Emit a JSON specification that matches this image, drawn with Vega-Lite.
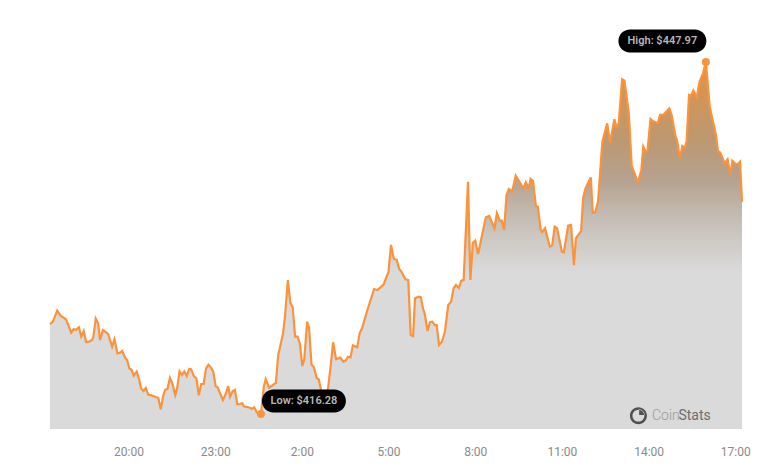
{
  "$schema": "https://vega.github.io/schema/vega-lite/v6.json",
  "autosize": "none",
  "padding": {"left": 50, "top": 20, "right": 18, "bottom": 43},
  "width": 692,
  "height": 409,
  "background": "#ffffff",
  "config": {"view": {"stroke": null}},
  "datasets": {
    "price": [
      {"t":"2024-03-01T17:17","p":424.36},{"t":"2024-03-01T17:23","p":424.59},{"t":"2024-03-01T17:32","p":425.58},{"t":"2024-03-01T17:39","p":425.13},{"t":"2024-03-01T17:50","p":424.81},{"t":"2024-03-01T17:55","p":424.29},{"t":"2024-03-01T18:01","p":423.60},{"t":"2024-03-01T18:06","p":423.93},{"t":"2024-03-01T18:11","p":423.84},{"t":"2024-03-01T18:17","p":424.09},{"t":"2024-03-01T18:22","p":423.24},{"t":"2024-03-01T18:27","p":423.75},{"t":"2024-03-01T18:32","p":422.76},{"t":"2024-03-01T18:38","p":422.79},{"t":"2024-03-01T18:44","p":422.94},{"t":"2024-03-01T18:47","p":423.19},{"t":"2024-03-01T18:52","p":424.86},{"t":"2024-03-01T18:57","p":424.45},
      {"t":"2024-03-01T19:01","p":422.94},{"t":"2024-03-01T19:07","p":423.84},{"t":"2024-03-01T19:13","p":423.66},{"t":"2024-03-01T19:18","p":423.46},{"t":"2024-03-01T19:26","p":422.34},{"t":"2024-03-01T19:31","p":423.01},{"t":"2024-03-01T19:37","p":421.74},{"t":"2024-03-01T19:42","p":421.80},{"t":"2024-03-01T19:47","p":421.95},{"t":"2024-03-01T19:53","p":421.35},{"t":"2024-03-01T19:57","p":421.14},
      {"t":"2024-03-01T20:02","p":420.36},{"t":"2024-03-01T20:06","p":420.30},{"t":"2024-03-01T20:11","p":419.73},{"t":"2024-03-01T20:17","p":420.09},{"t":"2024-03-01T20:22","p":419.40},{"t":"2024-03-01T20:26","p":418.59},{"t":"2024-03-01T20:31","p":418.35},{"t":"2024-03-01T20:36","p":418.62},{"t":"2024-03-01T20:41","p":418.02},{"t":"2024-03-01T20:47","p":417.96},{"t":"2024-03-01T20:55","p":417.84},
      {"t":"2024-03-01T21:02","p":417.72},{"t":"2024-03-01T21:07","p":416.70},{"t":"2024-03-01T21:12","p":417.90},{"t":"2024-03-01T21:16","p":418.44},{"t":"2024-03-01T21:21","p":418.56},{"t":"2024-03-01T21:26","p":419.52},{"t":"2024-03-01T21:31","p":419.04},{"t":"2024-03-01T21:37","p":417.99},{"t":"2024-03-01T21:41","p":418.59},{"t":"2024-03-01T21:46","p":420.12},{"t":"2024-03-01T21:51","p":419.79},{"t":"2024-03-01T21:56","p":420.12},
      {"t":"2024-03-01T22:01","p":419.70},{"t":"2024-03-01T22:06","p":420.33},{"t":"2024-03-01T22:10","p":420.30},{"t":"2024-03-01T22:16","p":419.67},{"t":"2024-03-01T22:21","p":419.49},{"t":"2024-03-01T22:26","p":417.96},{"t":"2024-03-01T22:31","p":418.98},{"t":"2024-03-01T22:36","p":418.98},{"t":"2024-03-01T22:41","p":420.39},{"t":"2024-03-01T22:46","p":420.72},{"t":"2024-03-01T22:51","p":420.48},{"t":"2024-03-01T22:56","p":420.09},
      {"t":"2024-03-01T23:01","p":418.80},{"t":"2024-03-01T23:05","p":418.68},{"t":"2024-03-01T23:16","p":417.54},{"t":"2024-03-01T23:21","p":417.99},{"t":"2024-03-01T23:27","p":418.80},{"t":"2024-03-01T23:31","p":417.84},{"t":"2024-03-01T23:36","p":418.32},{"t":"2024-03-01T23:41","p":418.44},{"t":"2024-03-01T23:46","p":417.15},{"t":"2024-03-01T23:51","p":417.18},{"t":"2024-03-01T23:56","p":417.24},
      {"t":"2024-03-02T00:00","p":416.97},{"t":"2024-03-02T00:12","p":416.85},{"t":"2024-03-02T00:16","p":416.73},{"t":"2024-03-02T00:21","p":416.88},{"t":"2024-03-02T00:27","p":416.40},{"t":"2024-03-02T00:35","p":416.28},{"t":"2024-03-02T00:41","p":418.74},{"t":"2024-03-02T00:45","p":419.43},{"t":"2024-03-02T00:52","p":418.65},
      {"t":"2024-03-02T01:06","p":419.07},{"t":"2024-03-02T01:11","p":421.59},{"t":"2024-03-02T01:21","p":423.55},{"t":"2024-03-02T01:25","p":425.04},{"t":"2024-03-02T01:31","p":428.34},{"t":"2024-03-02T01:36","p":426.30},{"t":"2024-03-02T01:41","p":425.89},{"t":"2024-03-02T01:46","p":423.24},{"t":"2024-03-02T01:51","p":423.24},{"t":"2024-03-02T01:56","p":422.58},
      {"t":"2024-03-02T02:01","p":420.60},{"t":"2024-03-02T02:05","p":421.20},{"t":"2024-03-02T02:11","p":424.59},{"t":"2024-03-02T02:15","p":424.00},{"t":"2024-03-02T02:20","p":420.75},{"t":"2024-03-02T02:25","p":420.48},{"t":"2024-03-02T02:31","p":419.49},{"t":"2024-03-02T02:35","p":419.40},{"t":"2024-03-02T02:40","p":418.44},{"t":"2024-03-02T02:46","p":417.54},{"t":"2024-03-02T02:51","p":417.54},{"t":"2024-03-02T02:54","p":418.44},
      {"t":"2024-03-02T03:00","p":420.69},{"t":"2024-03-02T03:05","p":422.74},{"t":"2024-03-02T03:11","p":421.20},{"t":"2024-03-02T03:20","p":421.35},{"t":"2024-03-02T03:26","p":420.99},{"t":"2024-03-02T03:31","p":421.08},{"t":"2024-03-02T03:36","p":421.44},{"t":"2024-03-02T03:41","p":421.38},{"t":"2024-03-02T03:46","p":422.47},{"t":"2024-03-02T03:55","p":422.28},
      {"t":"2024-03-02T04:00","p":423.55},{"t":"2024-03-02T04:05","p":424.00},{"t":"2024-03-02T04:15","p":425.49},{"t":"2024-03-02T04:30","p":427.53},{"t":"2024-03-02T04:37","p":427.44},{"t":"2024-03-02T04:50","p":427.96},
      {"t":"2024-03-02T05:00","p":429.09},{"t":"2024-03-02T05:05","p":431.50},{"t":"2024-03-02T05:11","p":430.26},{"t":"2024-03-02T05:17","p":430.14},{"t":"2024-03-02T05:22","p":429.33},{"t":"2024-03-02T05:26","p":429.15},{"t":"2024-03-02T05:35","p":428.41},{"t":"2024-03-02T05:41","p":428.34},{"t":"2024-03-02T05:46","p":423.39},{"t":"2024-03-02T05:51","p":423.30},{"t":"2024-03-02T05:55","p":426.70},
      {"t":"2024-03-02T06:02","p":426.84},{"t":"2024-03-02T06:07","p":426.79},{"t":"2024-03-02T06:12","p":425.71},{"t":"2024-03-02T06:15","p":425.35},{"t":"2024-03-02T06:21","p":423.75},{"t":"2024-03-02T06:26","p":424.54},{"t":"2024-03-02T06:31","p":424.59},{"t":"2024-03-02T06:36","p":424.29},{"t":"2024-03-02T06:40","p":424.29},{"t":"2024-03-02T06:45","p":422.49},{"t":"2024-03-02T06:51","p":422.79},{"t":"2024-03-02T06:57","p":423.69},
      {"t":"2024-03-02T07:04","p":426.09},{"t":"2024-03-02T07:10","p":426.39},{"t":"2024-03-02T07:15","p":427.60},{"t":"2024-03-02T07:20","p":427.89},{"t":"2024-03-02T07:26","p":427.62},{"t":"2024-03-02T07:31","p":428.28},{"t":"2024-03-02T07:36","p":428.34},{"t":"2024-03-02T07:45","p":437.19},{"t":"2024-03-02T07:50","p":428.34},{"t":"2024-03-02T07:55","p":431.68},
      {"t":"2024-03-02T08:00","p":431.88},{"t":"2024-03-02T08:06","p":430.68},{"t":"2024-03-02T08:22","p":433.99},{"t":"2024-03-02T08:29","p":434.11},{"t":"2024-03-02T08:40","p":433.00},{"t":"2024-03-02T08:45","p":434.35},{"t":"2024-03-02T08:51","p":433.68},{"t":"2024-03-02T08:55","p":433.68},
      {"t":"2024-03-02T09:00","p":432.85},{"t":"2024-03-02T09:05","p":436.00},{"t":"2024-03-02T09:10","p":436.54},{"t":"2024-03-02T09:17","p":436.33},{"t":"2024-03-02T09:24","p":437.73},{"t":"2024-03-02T09:40","p":436.60},{"t":"2024-03-02T09:45","p":437.14},{"t":"2024-03-02T09:51","p":436.60},{"t":"2024-03-02T09:55","p":437.44},
      {"t":"2024-03-02T10:00","p":437.28},{"t":"2024-03-02T10:06","p":435.01},{"t":"2024-03-02T10:10","p":434.94},{"t":"2024-03-02T10:16","p":432.85},{"t":"2024-03-02T10:19","p":432.67},{"t":"2024-03-02T10:25","p":433.00},{"t":"2024-03-02T10:35","p":431.34},{"t":"2024-03-02T10:40","p":431.49},{"t":"2024-03-02T10:45","p":433.14},{"t":"2024-03-02T10:50","p":433.00},
      {"t":"2024-03-02T11:00","p":430.89},{"t":"2024-03-02T11:04","p":430.84},{"t":"2024-03-02T11:13","p":433.23},{"t":"2024-03-02T11:19","p":433.30},{"t":"2024-03-02T11:25","p":429.67},{"t":"2024-03-02T11:29","p":432.10},{"t":"2024-03-02T11:40","p":432.76},{"t":"2024-03-02T11:44","p":435.70},{"t":"2024-03-02T11:49","p":436.60},
      {"t":"2024-03-02T12:00","p":437.59},{"t":"2024-03-02T12:04","p":434.40},{"t":"2024-03-02T12:09","p":434.44},{"t":"2024-03-02T12:15","p":435.39},{"t":"2024-03-02T12:24","p":440.80},{"t":"2024-03-02T12:34","p":442.45},{"t":"2024-03-02T12:40","p":440.70},{"t":"2024-03-02T12:49","p":442.81},{"t":"2024-03-02T12:53","p":442.15},{"t":"2024-03-02T12:58","p":442.45},
      {"t":"2024-03-02T13:05","p":446.41},{"t":"2024-03-02T13:10","p":446.29},{"t":"2024-03-02T13:19","p":443.35},{"t":"2024-03-02T13:25","p":438.61},{"t":"2024-03-02T13:38","p":437.14},{"t":"2024-03-02T13:45","p":438.25},{"t":"2024-03-02T13:49","p":440.35},{"t":"2024-03-02T13:54","p":439.89},{"t":"2024-03-02T13:58","p":440.05},
      {"t":"2024-03-02T14:04","p":442.84},{"t":"2024-03-02T14:09","p":442.66},{"t":"2024-03-02T14:19","p":442.45},{"t":"2024-03-02T14:24","p":443.23},{"t":"2024-03-02T14:30","p":443.20},{"t":"2024-03-02T14:37","p":443.50},{"t":"2024-03-02T14:43","p":443.80},{"t":"2024-03-02T14:48","p":443.20},{"t":"2024-03-02T14:56","p":441.25},{"t":"2024-03-02T14:59","p":440.95},
      {"t":"2024-03-02T15:05","p":439.30},{"t":"2024-03-02T15:10","p":440.41},{"t":"2024-03-02T15:15","p":440.26},{"t":"2024-03-02T15:19","p":440.80},{"t":"2024-03-02T15:24","p":445.00},{"t":"2024-03-02T15:28","p":444.91},{"t":"2024-03-02T15:33","p":445.39},{"t":"2024-03-02T15:40","p":444.79},{"t":"2024-03-02T15:46","p":446.20},{"t":"2024-03-02T15:53","p":446.95},{"t":"2024-03-02T15:59","p":447.97},
      {"t":"2024-03-02T16:07","p":443.95},{"t":"2024-03-02T16:13","p":442.75},{"t":"2024-03-02T16:20","p":441.40},{"t":"2024-03-02T16:24","p":439.98},{"t":"2024-03-02T16:29","p":439.81},{"t":"2024-03-02T16:38","p":438.85},{"t":"2024-03-02T16:44","p":439.21},{"t":"2024-03-02T16:50","p":437.80},{"t":"2024-03-02T16:54","p":439.08},
      {"t":"2024-03-02T17:01","p":438.79},{"t":"2024-03-02T17:05","p":438.76},{"t":"2024-03-02T17:10","p":438.99},{"t":"2024-03-02T17:14","p":435.39}
    ],
    "high": [{"t":"2024-03-02T15:59","p":447.97,"label":"High: $447.97"}],
    "low": [{"t":"2024-03-02T00:35","p":416.28,"label":"Low: $416.28"}],
    "logo": [{"t":"2024-03-02T13:39","p":416.13}]
  },
  "encoding": {
    "x": {
      "field": "t",
      "type": "temporal",
      "scale": {"domain": [{"year":2024,"month":3,"date":1,"hours":17,"minutes":17},{"year":2024,"month":3,"date":2,"hours":17,"minutes":14}]},
      "axis": {
        "title": null,
        "grid": false,
        "domain": false,
        "ticks": false,
        "labelPadding": 17,
        "labelFont": "Roboto",
        "labelFontSize": 12,
        "labelColor": "#8a8a8a",
        "labelFlush": false,
        "labelOverlap": false,
        "format": "%-H:%M",
        "values": [
          {"year":2024,"month":3,"date":1,"hours":20},
          {"year":2024,"month":3,"date":1,"hours":23},
          {"year":2024,"month":3,"date":2,"hours":2},
          {"year":2024,"month":3,"date":2,"hours":5},
          {"year":2024,"month":3,"date":2,"hours":8},
          {"year":2024,"month":3,"date":2,"hours":11},
          {"year":2024,"month":3,"date":2,"hours":14},
          {"year":2024,"month":3,"date":2,"hours":17}
        ]
      }
    },
    "y": {
      "field": "p",
      "type": "quantitative",
      "scale": {"domain": [414.93, 451.75], "zero": false, "nice": false},
      "axis": null
    }
  },
  "layer": [
    {
      "data": {"name": "price"},
      "mark": {
        "type": "area",
        "color": {
          "gradient": "linear",
          "x1": 0, "y1": 0, "x2": 0, "y2": 1,
          "stops": [
            {"offset": 0, "color": "#ea9238"},
            {"offset": 0.1, "color": "#d0955a"},
            {"offset": 0.21, "color": "#bc9870"},
            {"offset": 0.32, "color": "#b5a28f"},
            {"offset": 0.43, "color": "#c5beb5"},
            {"offset": 0.57, "color": "#dadada"},
            {"offset": 1, "color": "#dadada"}
          ]
        },
        "opacity": 1
      },
      "encoding": {"y2": {"datum": 414.93}}
    },
    {
      "data": {"name": "price"},
      "mark": {"type": "line", "color": "#fb923c", "strokeWidth": 2.2}
    },
    {
      "data": {"name": "high"},
      "mark": {"type": "rect", "color": "#000000", "width": 88, "height": 23, "cornerRadius": 11.5, "xOffset": -43.5, "yOffset": -21}
    },
    {
      "data": {"name": "low"},
      "mark": {"type": "rect", "color": "#000000", "width": 84, "height": 23, "cornerRadius": 11.5, "xOffset": 43, "yOffset": -13}
    },
    {
      "data": {"name": "high"},
      "mark": {"type": "circle", "color": "#fb923c", "size": 64, "opacity": 1}
    },
    {
      "data": {"name": "low"},
      "mark": {"type": "circle", "color": "#fb923c", "size": 64, "opacity": 1}
    },
    {
      "data": {"name": "high"},
      "mark": {"type": "text", "font": "Roboto", "fontSize": 11, "fontWeight": 600, "color": "#b8b8b8", "dx": -43.5, "dy": -21},
      "encoding": {"text": {"field": "label"}}
    },
    {
      "data": {"name": "low"},
      "mark": {"type": "text", "font": "Roboto", "fontSize": 11, "fontWeight": 600, "color": "#b8b8b8", "dx": 43, "dy": -13},
      "encoding": {"text": {"field": "label"}}
    },
    {
      "data": {"name": "logo"},
      "mark": {
        "type": "point",
        "filled": true,
        "opacity": 1,
        "size": 289,
        "color": "#505050",
        "shape": "M0,-1A1,1 0 1 1 -0.01,-1L-0.01,-0.7A0.7,0.7 0 1 0 0,-0.7ZM0.08,-0.75L0.08,-0.08L0.75,-0.08A0.75,0.75 0 0 0 0.08,-0.75Z"
      }
    },
    {
      "data": {"name": "logo"},
      "mark": {"type": "text", "font": "Roboto", "fontSize": 14, "fontWeight": 300, "align": "left", "color": "#9a9a9a", "dx": 13.5, "text": "Coin"}
    },
    {
      "data": {"name": "logo"},
      "mark": {"type": "text", "font": "Roboto", "fontSize": 14, "fontWeight": 400, "align": "left", "color": "#6e6e6e", "dx": 40, "text": "Stats"}
    }
  ]
}
